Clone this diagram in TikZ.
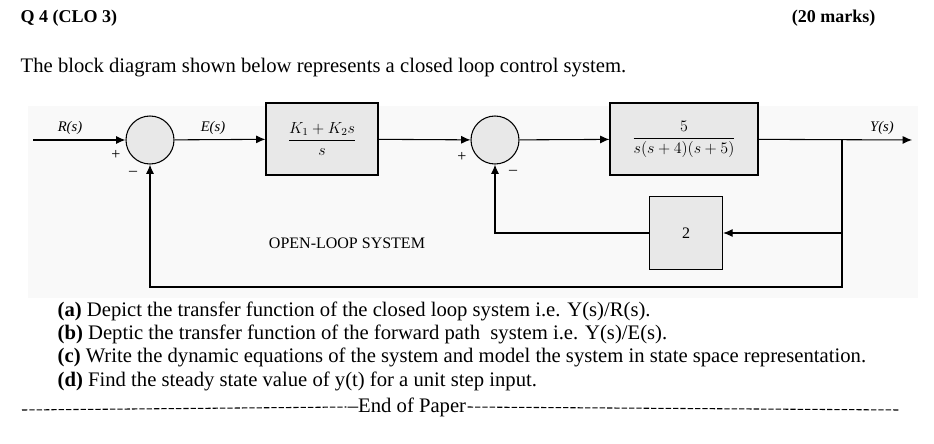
\documentclass[tikz,border=0pt]{standalone}
\usepackage{amsmath}
\usepackage{fontspec}
\setmainfont{Liberation Serif}
\usetikzlibrary{arrows.meta}
\begin{document}
\begin{tikzpicture}[x=0.75pt,y=-0.75pt,
    blk/.style={draw, thick, fill=gray!18, inner sep=0pt},
    sum/.style={circle, draw, thick, fill=gray!18, minimum size=36pt, inner sep=0pt},
    sig/.style={-{Latex[length=7pt,width=6pt]}, thick},
    lbl/.style={font=\fontsize{11}{13}\selectfont\itshape},
    pm/.style={font=\fontsize{12}{13}\selectfont},
    txt/.style={anchor=west, font=\fontsize{15.5}{17}\selectfont}]
  \useasboundingbox (0,0) rectangle (934,443);

  % Header.
  \node[txt, font=\bfseries\fontsize{13.5}{15}\selectfont] (q) at (16,18) {Q 4 (CLO 3)};
  \node[anchor=east, font=\bfseries\fontsize{13.5}{15}\selectfont] (m) at (880,18) {(20 marks)};
  \node[txt] (intro) at (16,68) {The block diagram shown below represents a closed loop control system.};

  % Diagram background.
  \fill[gray!5] (28,106) rectangle (918,298);

  % Blocks.
  \node[sum] (s1) at (150,140) {};
  \node[sum] (s2) at (495,140) {};
  \node[blk, minimum width=84pt, minimum height=54pt, font=\large] (g1) at (322,139) {$\dfrac{K_1 + K_2 s}{s}$};
  \node[blk, minimum width=111pt, minimum height=54pt, font=\large] (g2) at (684,139) {$\dfrac{5}{s(s+4)(s+5)}$};
  \node[blk, minimum width=55pt, minimum height=55pt, font=\large] (h) at (686,233) {2};

  \coordinate (in) at (33,140);
  \coordinate (out) at (912,140);
  \coordinate (br) at (842,140);
  \coordinate (bh) at (842,233);
  \coordinate (bl) at (842,287);
  \coordinate (fl) at (150,287);
  \coordinate (fi) at (495,233);

  % Signals.
  \draw[sig] (in) -- (s1);
  \draw[sig] (s1) -- (g1);
  \draw[sig] (g1) -- (s2);
  \draw[sig] (s2) -- (g2);
  \draw[sig] (g2) -- (out);
  \draw[sig] (br) -- (bh) -- (h);
  \draw[sig] (h) -- (fi) -- (s2);
  \draw[sig] (bh) -- (bl) -- (fl) -- (s1);

  % Labels.
  \node[lbl] (lr) at (70,128) {R(s)};
  \node[lbl] (le) at (213,128) {E(s)};
  \node[lbl] (ly) at (882,128) {Y(s)};
  \node[pm] (p1) at (116,155) {+};
  \node[pm] (n1) at (133,173) {--};
  \node[pm] (p2) at (462,157) {+};
  \node[pm] (n2) at (513,172) {--};
  \node[font=\fontsize{12}{14}\selectfont] (ol) at (347,243) {OPEN-LOOP SYSTEM};

  % Questions.
  \node[txt] (a) at (53,311) {\textbf{(a)} Depict the transfer function of the closed loop system i.e. Y(s)/R(s).};
  \node[txt] (b) at (53,334) {\textbf{(b)} Deptic the transfer function of the forward path\ \ system i.e. Y(s)/E(s).};
  \node[txt] (c) at (53,357) {\textbf{(c)} Write the dynamic equations of the system and model the system in state space representation.};
  \node[txt] (d) at (53,381) {\textbf{(d)} Find the steady state value of y(t) for a unit step input.};

  % End line.
  \node[inner sep=1pt] (end) at (407,407) {\fontsize{15.5}{17}\selectfont --End of Paper};
  \draw[thick, dash pattern=on 4pt off 1.5pt] (22,410) -- (end.west);
  \draw[thick, dash pattern=on 4pt off 1.5pt] (end.east) -- (900,410);
\end{tikzpicture}
\end{document}
